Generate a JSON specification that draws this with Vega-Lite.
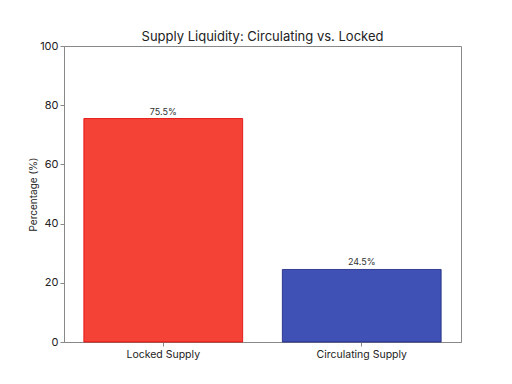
{
  "$schema": "https://vega.github.io/schema/vega-lite/v6.json",
  "width": 397,
  "height": 296,
  "autosize": {"type": "none"},
  "padding": {"left": 64, "top": 46, "right": 51, "bottom": 42},
  "title": {"text": "Supply Liquidity: Circulating vs. Locked", "fontSize": 13, "fontWeight": "normal", "font": "Inter", "color": "#222", "offset": -4},
  "config": {
    "view": {"stroke": "#888", "strokeWidth": 1},
    "axis": {"labelFont": "Inter", "titleFont": "Inter", "domainColor": "#888", "tickColor": "#888", "labelColor": "#222", "titleColor": "#222", "grid": false, "tickSize": 4}
  },
  "data": {"values": [
    {"category": "Locked Supply", "value": 75.5, "label": "75.5%"},
    {"category": "Circulating Supply", "value": 24.5, "label": "24.5%"}
  ]},
  "encoding": {
    "x": {"field": "category", "type": "nominal", "sort": null,
      "scale": {"paddingInner": 0.2, "paddingOuter": 0.1},
      "axis": {"title": null, "labelAngle": 0, "labelFontSize": 10.5, "labelPadding": 3}},
    "y": {"field": "value", "type": "quantitative",
      "scale": {"domain": [0, 100], "nice": false},
      "axis": {"title": "Percentage (%)", "titleFontSize": 10, "titleFontWeight": "normal", "labelFontSize": 11, "values": [0, 20, 40, 60, 80, 100], "titlePadding": 1}}
  },
  "layer": [
    {"mark": {"type": "bar", "strokeWidth": 0.8},
      "encoding": {
        "color": {"field": "category", "type": "nominal", "legend": null,
          "scale": {"domain": ["Locked Supply", "Circulating Supply"], "range": ["#F44336", "#3F51B5"]}},
        "stroke": {"field": "category", "type": "nominal", "legend": null,
          "scale": {"domain": ["Locked Supply", "Circulating Supply"], "range": ["#E00000", "#1A237E"]}}
      }},
    {"mark": {"type": "text", "baseline": "bottom", "dy": -2, "fontSize": 9, "font": "Inter", "color": "#333"},
      "encoding": {"text": {"field": "label"}}}
  ]
}
